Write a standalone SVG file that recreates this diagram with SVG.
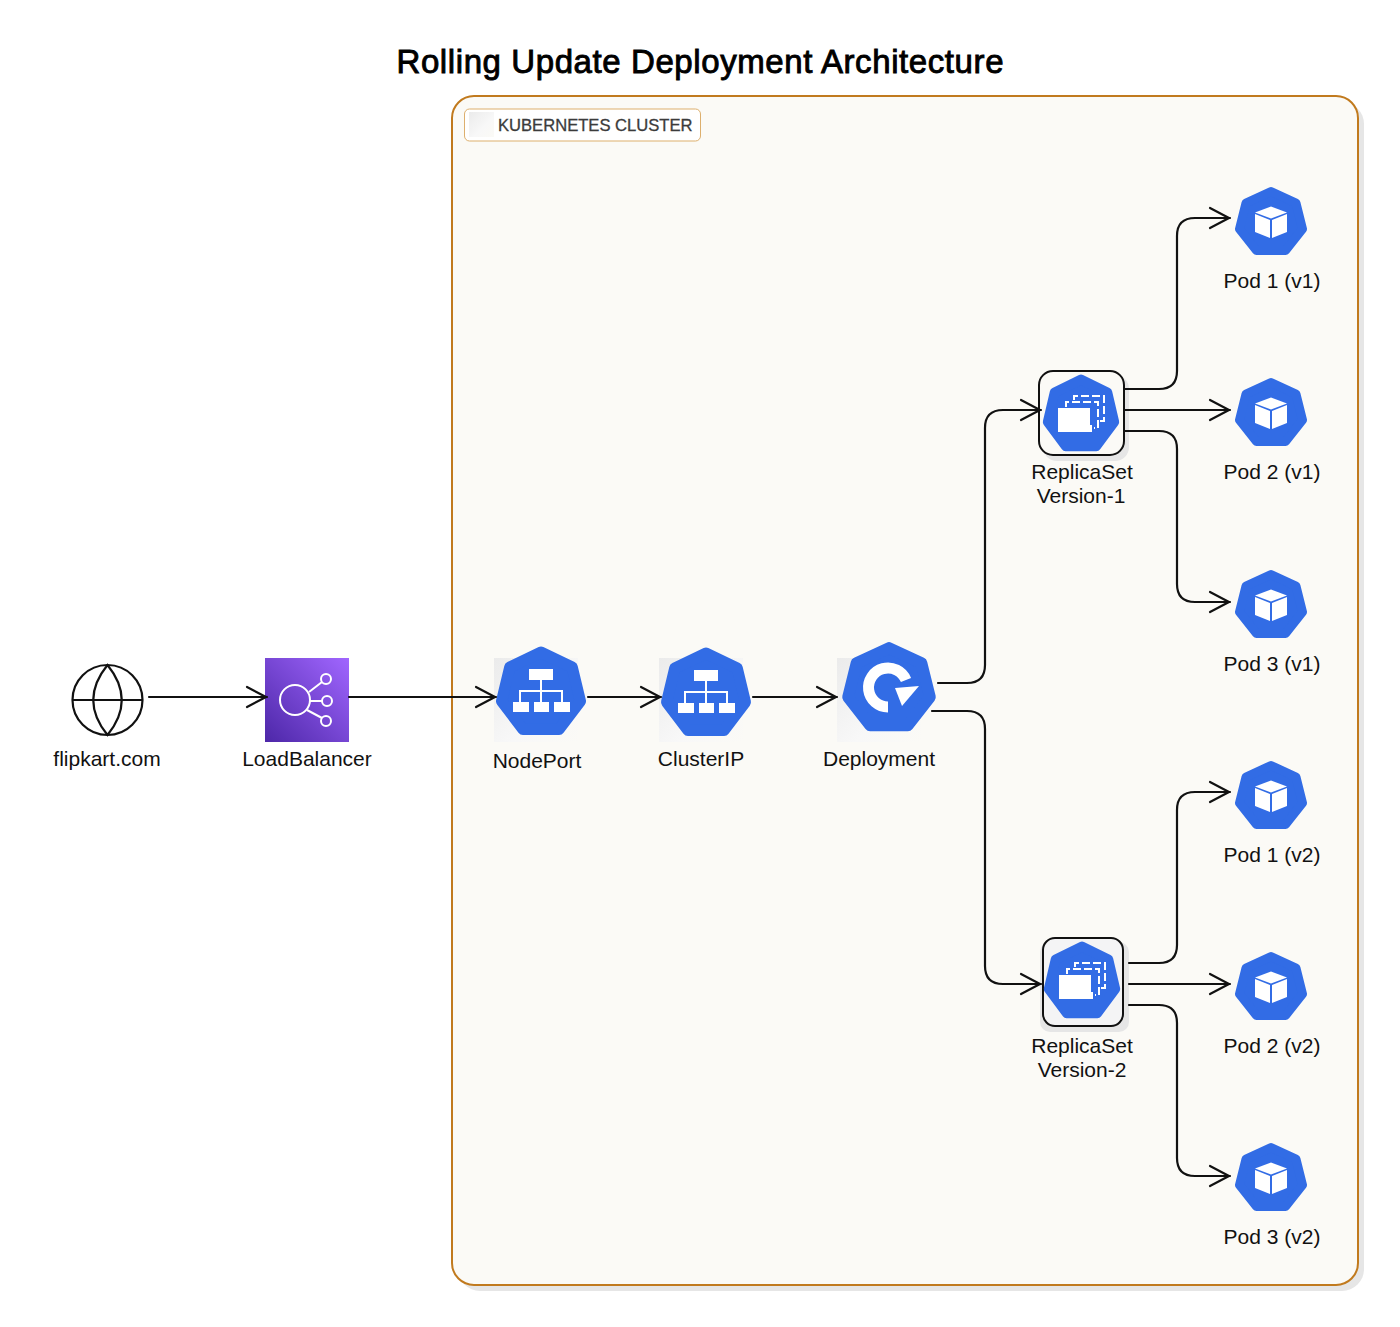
<svg xmlns="http://www.w3.org/2000/svg" width="1400" height="1327" viewBox="0 0 1400 1327">
<style>
text{font-family:"Liberation Sans",Arial,sans-serif;fill:#111}
.lbl{font-size:21px;text-anchor:middle}
.conn{fill:none;stroke:#111;stroke-width:2.2;stroke-linecap:round}
.hept{fill:#326ce5;stroke:#326ce5;stroke-width:9;stroke-linejoin:round}
.ic{fill:#fff}
.icl{fill:none;stroke:#fff;stroke-width:2}
</style>
<defs>
<marker id="arr" markerUnits="userSpaceOnUse" markerWidth="24" markerHeight="24" refX="22" refY="12" orient="auto" overflow="visible">
<path d="M2 2 L21 12 L2 22" fill="none" stroke="#111" stroke-width="2.2" stroke-linecap="round" stroke-linejoin="round"/>
</marker>
<linearGradient id="lbg" x1="0" y1="1" x2="1" y2="0"><stop offset="0" stop-color="#4d27a8"/><stop offset="1" stop-color="#a166ff"/></linearGradient>
<linearGradient id="bgs" x1="0" y1="0" x2="1" y2="1"><stop offset="0" stop-color="#ebebeb"/><stop offset="0.6" stop-color="#f8f8f8"/><stop offset="1" stop-color="#fbfaf6"/></linearGradient>
<path id="h" class="hept" d="M0 -30.500 L25 -19 L31.500 7 L14.500 28.500 L-14.500 28.500 L-31.500 7 L-25 -19 Z"/>
<g id="pod">
<use href="#h"/>
<path class="ic" d="M0 -15.500 L16 -9.500 L0 -3.500 L-16 -9.500 Z"/>
<path class="ic" d="M-16 -8 L-1 -2 L-1 16 L-16 10 Z"/>
<path class="ic" d="M16 -8 L1 -2 L1 16 L16 10 Z"/>
</g>
<g id="svc">
<use href="#h" transform="scale(1.25 1.3)"/>
<rect class="ic" x="-12" y="-23" width="24" height="11"/>
<rect class="ic" x="-28" y="10" width="16" height="10"/>
<rect class="ic" x="-7" y="10" width="15" height="10"/>
<rect class="ic" x="13" y="10" width="16" height="10"/>
<path class="icl" d="M0 -12 V10 M-21 10 V-1 H21 V10"/>
</g>
<g id="rs">
<use href="#h" transform="scale(1.06 1.13)"/>
<path class="ic" d="M-23 -6 H9 V11 H11 V18 H-23 Z"/>
<path class="icl" stroke-width="2.500" stroke-dasharray="8 3" d="M-15 -7 V-12 H17 V14 H13"/>
<path class="icl" stroke-width="2.500" stroke-dasharray="8 3" d="M-7 -14 V-18 H23 V7 H19"/>
</g>
</defs>

<text x="700" y="73" text-anchor="middle" font-size="33" textLength="607" lengthAdjust="spacing" stroke="#000" stroke-width="0.9" style="font-family:'Liberation Sans',Arial,sans-serif;fill:#000">Rolling Update Deployment Architecture</text>

<g id="cluster">
<rect x="458" y="102" width="906" height="1189" rx="22" fill="#e6e6e6"/>
<rect x="452" y="96" width="906" height="1189" rx="22" fill="#fbfaf6" stroke="#c17a1e" stroke-width="2"/>
<rect x="464.500" y="109" width="236" height="32" rx="5" fill="#fff" stroke="#ddaf6d" stroke-width="1"/>
<rect x="469" y="112" width="25" height="25" fill="url(#bgs)"/>
<text x="498" y="131" font-size="16.600" stroke="#3b3b3b" stroke-width="0.3" style="fill:#3b3b3b">KUBERNETES CLUSTER</text>
</g>

<g id="flipkart">
<g fill="none" stroke="#111" stroke-width="2.2">
<circle cx="107.500" cy="700" r="35"/>
<path d="M107.500 665 Q79 700 107.500 735 Q136 700 107.500 665 Z M72.500 700 H142.500"/>
</g>
<text class="lbl" x="107" y="766">flipkart.com</text>
</g>

<g id="loadbalancer">
<rect x="265" y="658" width="84" height="84" fill="url(#lbg)"/>
<g fill="none" stroke="#fff" stroke-width="2">
<circle cx="295" cy="700" r="15"/>
<circle cx="326" cy="679" r="5"/>
<circle cx="327" cy="701" r="5"/>
<circle cx="326" cy="721" r="5"/>
<path d="M309 692 L322 682 M310 701 H322 M307 710 L322 718"/>
</g>
<text class="lbl" x="307" y="766">LoadBalancer</text>
</g>

<g id="nodeport">
<rect x="494" y="658" width="84" height="84" fill="url(#bgs)"/>
<use href="#svc" x="541" y="692"/>
<text class="lbl" x="537" y="768">NodePort</text>
</g>

<g id="clusterip">
<rect x="659" y="658" width="84" height="84" fill="url(#bgs)"/>
<use href="#svc" x="706" y="693"/>
<text class="lbl" x="701" y="766">ClusterIP</text>
</g>

<g id="deployment">
<rect x="837" y="658" width="84" height="84" fill="url(#bgs)"/>
<use href="#h" transform="translate(889 688) scale(1.3 1.31)"/>
<path d="M888 707 A19.500 19.500 0 1 1 906 680" fill="none" stroke="#fff" stroke-width="11"/>
<path class="ic" d="M895 688 L919 686 L902 706 Z"/>
<text class="lbl" x="879" y="766">Deployment</text>
</g>

<g id="replicaset1">
<rect x="1043" y="375" width="86" height="86" rx="14" fill="#e6e6e6"/>
<rect x="1039" y="371" width="85" height="84" rx="14" fill="#fbfaf6" stroke="#111" stroke-width="2"/>
<use href="#rs" x="1081" y="414"/>
<text class="lbl" x="1082" y="479">ReplicaSet</text>
<text class="lbl" x="1081" y="503">Version-1</text>
</g>

<g id="replicaset2">
<rect x="1040" y="942" width="89" height="90" rx="10" fill="#e6e6e6"/>
<rect x="1043" y="938" width="80" height="88" rx="12" fill="#f4f4f5" stroke="#111" stroke-width="2"/>
<use href="#rs" x="1082" y="981"/>
<text class="lbl" x="1082" y="1053">ReplicaSet</text>
<text class="lbl" x="1082" y="1077">Version-2</text>
</g>

<g id="pod1v1"><use href="#pod" x="1271" y="222"/><text class="lbl" x="1272" y="288">Pod 1 (v1)</text></g>
<g id="pod2v1"><use href="#pod" x="1271" y="413"/><text class="lbl" x="1272" y="479">Pod 2 (v1)</text></g>
<g id="pod3v1"><use href="#pod" x="1271" y="605"/><text class="lbl" x="1272" y="671">Pod 3 (v1)</text></g>
<g id="pod1v2"><use href="#pod" x="1271" y="796"/><text class="lbl" x="1272" y="862">Pod 1 (v2)</text></g>
<g id="pod2v2"><use href="#pod" x="1271" y="987"/><text class="lbl" x="1272" y="1053">Pod 2 (v2)</text></g>
<g id="pod3v2"><use href="#pod" x="1271" y="1178"/><text class="lbl" x="1272" y="1244">Pod 3 (v2)</text></g>

<g id="connectors">
<path class="conn" marker-end="url(#arr)" d="M149 697 H267"/>
<path class="conn" marker-end="url(#arr)" d="M349 697 H496"/>
<path class="conn" marker-end="url(#arr)" d="M588 697 H661"/>
<path class="conn" marker-end="url(#arr)" d="M753 697 H837"/>
<path class="conn" marker-end="url(#arr)" d="M938 683 H967 Q985 683 985 665 V428 Q985 410 1003 410 H1041"/>
<path class="conn" marker-end="url(#arr)" d="M932 711 H967 Q985 711 985 729 V966 Q985 984 1003 984 H1041"/>
<path class="conn" marker-end="url(#arr)" d="M1125 389 H1159 Q1177 389 1177 371 V236 Q1177 218 1195 218 H1230"/>
<path class="conn" marker-end="url(#arr)" d="M1124 410 H1230"/>
<path class="conn" marker-end="url(#arr)" d="M1125 431 H1159 Q1177 431 1177 449 V584 Q1177 602 1195 602 H1230"/>
<path class="conn" marker-end="url(#arr)" d="M1129 963 H1159 Q1177 963 1177 945 V810 Q1177 792 1195 792 H1230"/>
<path class="conn" marker-end="url(#arr)" d="M1129 984 H1230"/>
<path class="conn" marker-end="url(#arr)" d="M1129 1005 H1159 Q1177 1005 1177 1023 V1158 Q1177 1176 1195 1176 H1230"/>
</g>
</svg>
